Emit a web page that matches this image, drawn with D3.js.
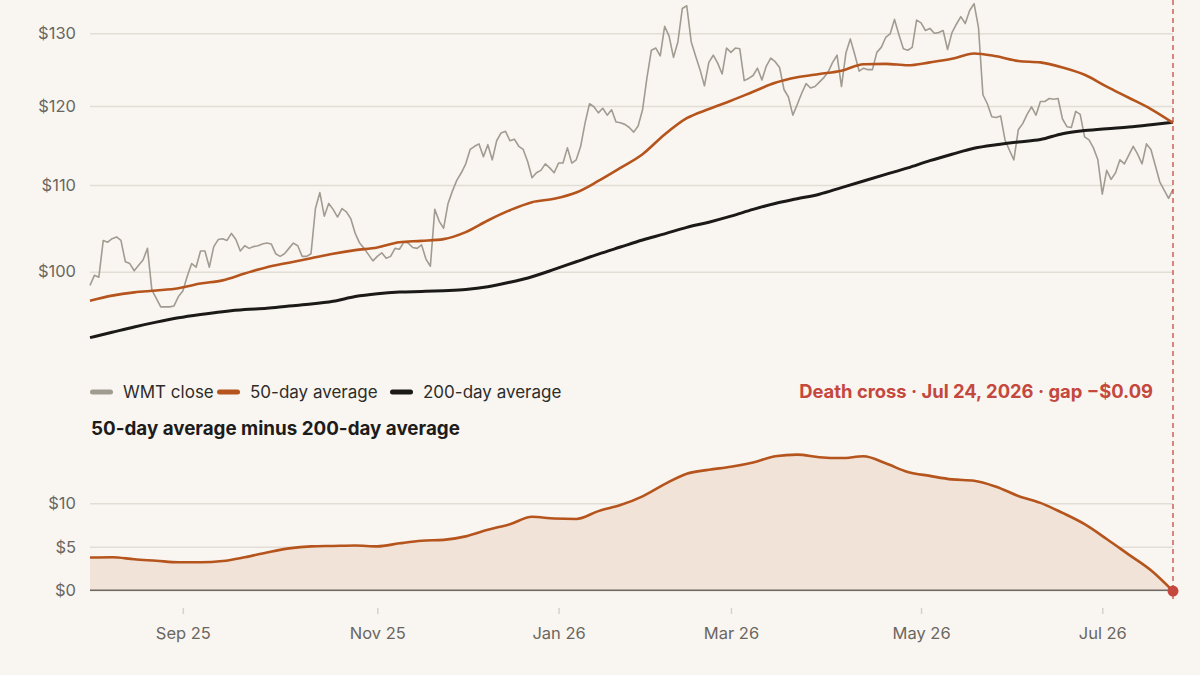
<!DOCTYPE html>
<html>
<head>
<meta charset="utf-8">
<script src="https://cdn.jsdelivr.net/npm/d3@7"></script>
<style>
  body { margin: 0; background: #f9f6f1; }
  svg { display: block; font-family: Inter, "Noto Sans", sans-serif; }
</style>
</head>
<body>
<div id="chart"></div>
<script>
// WMT daily close, Aug 1 2025 .. Jul 24 2026 (one value per trading day)
var closeValues = [
  98.5, 99.6, 99.4, 103.5, 103.3, 103.7, 103.9, 103.5, 101.1, 100.9,
  100.1, 100.7, 101.3, 102.6, 98.0, 97.1, 96.2, 96.2, 96.2, 96.3,
  97.3, 97.9, 99.5, 100.9, 100.5, 102.3, 102.3, 100.5, 102.8, 103.6,
  103.7, 103.5, 104.3, 103.6, 102.3, 102.9, 102.6, 102.8, 102.9, 103.1,
  103.2, 103.1, 102.0, 101.7, 102.0, 102.6, 103.2, 102.9, 101.7, 101.7,
  102.0, 107.2, 109.1, 106.3, 107.8, 107.1, 106.2, 107.2, 106.8, 106.0,
  104.3, 103.2, 102.6, 101.9, 101.2, 101.7, 102.1, 101.5, 101.7, 102.6,
  102.5, 103.3, 103.2, 102.7, 102.6, 103.0, 101.4, 100.6, 107.1, 105.7,
  104.9, 107.8, 109.3, 110.6, 111.5, 112.6, 114.4, 114.8, 115.1, 113.5,
  115.0, 113.1, 115.5, 116.5, 116.7, 115.5, 115.7, 114.8, 114.4, 112.9,
  110.9, 111.5, 111.8, 112.6, 112.1, 111.5, 112.7, 112.7, 114.6, 112.7,
  113.1, 114.8, 117.8, 120.3, 119.9, 119.1, 119.7, 118.8, 119.5, 117.9,
  117.8, 117.6, 117.2, 116.6, 117.4, 119.5, 123.8, 127.6, 127.9, 126.8,
  131.0, 129.6, 126.6, 128.8, 133.6, 134.0, 128.8, 126.8, 124.9, 122.7,
  125.9, 126.9, 125.8, 124.3, 127.9, 127.3, 127.9, 127.8, 123.4, 123.7,
  124.1, 125.1, 123.5, 125.4, 126.5, 126.0, 125.2, 122.2, 121.2, 118.8,
  120.2, 121.7, 123.0, 122.4, 122.6, 123.2, 123.8, 124.6, 125.9, 126.9,
  122.6, 127.2, 129.2, 127.0, 124.7, 125.1, 124.9, 124.9, 127.3, 128.0,
  129.4, 129.9, 132.0, 129.8, 127.8, 127.6, 128.0, 131.9, 131.5, 130.4,
  130.7, 130.0, 130.1, 130.4, 127.7, 130.1, 131.3, 132.4, 131.4, 133.3,
  134.3, 130.8, 121.5, 120.3, 118.6, 118.5, 118.7, 115.6, 114.3, 113.1,
  116.9, 117.7, 118.9, 119.9, 118.8, 120.6, 120.6, 121.0, 120.9, 121.0,
  118.3, 117.3, 117.2, 119.3, 118.9, 116.0, 115.6, 114.6, 113.1, 108.9,
  111.8, 110.7, 111.5, 113.1, 112.6, 113.7, 114.8, 113.8, 112.6, 115.1,
  114.4, 112.4, 110.4, 109.4, 108.4, 109.5
];

// moving averages and their gap, read every 5th trading day
var maIndex = d3.range(0, 246, 5);
var ma50Values = [
  96.86, 97.4, 97.75, 97.95, 98.2, 98.7, 99.05, 99.8, 100.5, 101.0,
  101.5, 102.0, 102.4, 102.7, 103.3, 103.45, 103.65, 104.45, 105.8, 107.0,
  107.95, 108.35, 109.1, 110.5, 112.1, 113.8, 116.3, 118.4, 119.6, 120.7,
  121.9, 123.1, 123.85, 124.3, 124.75, 125.65, 125.7, 125.5, 125.9, 126.4,
  127.15, 126.75, 126.1, 125.9, 125.2, 124.2, 122.6, 121.1, 119.6, 117.8
];
var ma200Values = [
  93.0, 93.55, 94.1, 94.6, 95.05, 95.4, 95.7, 95.93, 96.05, 96.3,
  96.5, 96.8, 97.3, 97.6, 97.78, 97.85, 97.93, 98.05, 98.35, 98.85,
  99.45, 100.25, 101.1, 101.95, 102.75, 103.55, 104.25, 105.0, 105.6, 106.3,
  107.1, 107.8, 108.35, 108.9, 109.7, 110.5, 111.3, 112.1, 113.0, 113.8,
  114.55, 115.0, 115.35, 115.65, 116.4, 116.8, 117.05, 117.25, 117.55, 117.89
];
var gapValues = [
  3.77, 3.8, 3.57, 3.4, 3.22, 3.22, 3.36, 3.8, 4.35, 4.82,
  5.05, 5.1, 5.15, 5.05, 5.4, 5.7, 5.8, 6.2, 6.95, 7.6,
  8.45, 8.25, 8.2, 9.1, 9.8, 10.8, 12.2, 13.4, 13.85, 14.2,
  14.7, 15.4, 15.6, 15.3, 15.2, 15.4, 14.6, 13.6, 13.15, 12.75,
  12.6, 11.9, 10.85, 10.05, 8.9, 7.6, 5.9, 4.1, 2.3, -0.09
];

var tickIndex = [21, 65, 106, 145, 188, 229];
var tickLabels = ["Sep 25", "Nov 25", "Jan 26", "Mar 26", "May 26", "Jul 26"];
var priceTicks = [100, 110, 120, 130];
var gapTicks = [0, 5, 10];
var seriesNames = ["WMT close", "50-day average", "200-day average"];
var seriesColors = ["#a29b91", "#b5541c", "#1b1a19"];
var crossDate = "Jul 24, 2026";

(function () {

  var width = 1200, height = 675
  var left = 90, right = 1173
  var red = "#c4483e"

  var svg = d3.select("#chart").append("svg")
      .attr("width", width)
      .attr("height", height)

  svg.append("rect").attr("width", width).attr("height", height).attr("fill", "#f9f6f1")

  var x = d3.scaleLinear()
      .domain([0, closeValues.length - 1])
      .range([left, right])

  var y = d3.scaleLog()
      .domain([92.25, 134.85])
      .range([345, 0])

  var yGap = d3.scaleLinear()
      .domain([0, 16])
      .range([590.3, 451.1])

  // top panel grid + labels
  var yAxis = svg.append("g")
      .attr("transform", "translate(" + left + ",0)")
      .call(d3.axisLeft(y)
        .tickValues(priceTicks)
        .tickFormat(function(d) { return "$" + d })
        .tickSize(-(right - left))
        .tickPadding(14))
  yAxis.select(".domain").remove()
  yAxis.selectAll("line").attr("stroke", "#e2ddd5").attr("stroke-width", 1.5)
  yAxis.selectAll("text").attr("fill", "#6b665f").attr("font-size", 16.5).attr("font-family", "Inter")

  // bottom panel grid + labels
  var gapAxis = svg.append("g")
      .attr("transform", "translate(" + left + ",0)")
      .call(d3.axisLeft(yGap)
        .tickValues(gapTicks)
        .tickFormat(function(d) { return "$" + d })
        .tickSize(-(right - left))
        .tickPadding(14))
  gapAxis.select(".domain").remove()
  gapAxis.selectAll("line").attr("stroke", "#e2ddd5").attr("stroke-width", 1.5)
  gapAxis.selectAll("text").attr("fill", "#6b665f").attr("font-size", 16.5).attr("font-family", "Inter")

  // x axis
  var xAxis = svg.append("g")
      .attr("transform", "translate(0,608)")
      .call(d3.axisBottom(x)
        .tickValues(tickIndex)
        .tickFormat(function(d, i) { return tickLabels[i] })
        .tickSize(6)
        .tickPadding(13))
  xAxis.select(".domain").remove()
  xAxis.selectAll("line").attr("stroke", "#d6d1c9").attr("stroke-width", 1.5)
  xAxis.selectAll("text").attr("fill", "#6b665f").attr("font-size", 16.5).attr("font-family", "Inter")

  // price lines
  var closeLine = d3.line()
      .x(function(d, i) { return x(i) })
      .y(function(d) { return y(d) })

  var maLine = d3.line()
      .x(function(d, i) { return x(maIndex[i]) })
      .y(function(d) { return y(d) })
      .curve(d3.curveMonotoneX)

  svg.append("path")
      .datum(closeValues)
      .attr("d", closeLine)
      .attr("fill", "none")
      .attr("stroke", seriesColors[0])
      .attr("stroke-width", 1.6)
      .attr("stroke-linejoin", "round")

  svg.append("path")
      .datum(ma200Values)
      .attr("d", maLine)
      .attr("fill", "none")
      .attr("stroke", seriesColors[2])
      .attr("stroke-width", 3)

  svg.append("path")
      .datum(ma50Values)
      .attr("d", maLine)
      .attr("fill", "none")
      .attr("stroke", seriesColors[1])
      .attr("stroke-width", 2.6)

  // gap panel
  var gapArea = d3.area()
      .x(function(d, i) { return x(maIndex[i]) })
      .y0(yGap(0))
      .y1(function(d) { return yGap(d) })
      .curve(d3.curveMonotoneX)

  var gapLine = d3.line()
      .x(function(d, i) { return x(maIndex[i]) })
      .y(function(d) { return yGap(d) })
      .curve(d3.curveMonotoneX)

  svg.append("path")
      .datum(gapValues)
      .attr("d", gapArea)
      .attr("fill", "#f1e3d8")

  svg.append("line")
      .attr("x1", left).attr("x2", right)
      .attr("y1", yGap(0)).attr("y2", yGap(0))
      .attr("stroke", "#6e6963")
      .attr("stroke-width", 1.5)

  svg.append("path")
      .datum(gapValues)
      .attr("d", gapLine)
      .attr("fill", "none")
      .attr("stroke", seriesColors[1])
      .attr("stroke-width", 2.6)

  // death cross marker
  var last = gapValues.length - 1
  svg.append("line")
      .attr("x1", x(maIndex[last])).attr("x2", x(maIndex[last]))
      .attr("y1", 0).attr("y2", 603)
      .attr("stroke", red)
      .attr("stroke-width", 1.5)
      .attr("stroke-dasharray", "5,4")
      .attr("opacity", 0.85)

  svg.append("circle")
      .attr("cx", x(maIndex[last]))
      .attr("cy", yGap(gapValues[last]))
      .attr("r", 5.5)
      .attr("fill", red)

  svg.append("text")
      .attr("x", 1153)
      .attr("y", 392)
      .attr("dy", "0.35em")
      .attr("text-anchor", "end")
      .attr("fill", red)
      .attr("font-size", 18.4)
      .attr("font-weight", 700)
      .text("Death cross \u00b7 " + crossDate + " \u00b7 gap \u2212$" + Math.abs(gapValues[last]).toFixed(2))

  // legend
  var legendX = [90, 217, 390]
  var legend = svg.selectAll(".legend")
      .data(seriesNames)
      .enter().append("g")
      .attr("class", "legend")
      .attr("transform", function(d, i) { return "translate(" + legendX[i] + ",392)" })

  legend.append("line")
      .attr("x1", 2.5).attr("x2", 20.5)
      .attr("stroke", function(d, i) { return seriesColors[i] })
      .attr("stroke-width", 5)
      .attr("stroke-linecap", "round")

  legend.append("text")
      .attr("x", 33)
      .attr("dy", "0.35em")
      .attr("fill", "#2e2c2a")
      .attr("font-size", 17)
      .text(function(d) { return d })

  svg.append("text")
      .attr("x", 91)
      .attr("y", 428)
      .attr("dy", "0.35em")
      .attr("fill", "#1d1c1b")
      .attr("font-size", 18.8)
      .attr("font-weight", 700)
      .text("50-day average minus 200-day average")

})()
</script>
</body>
</html>
